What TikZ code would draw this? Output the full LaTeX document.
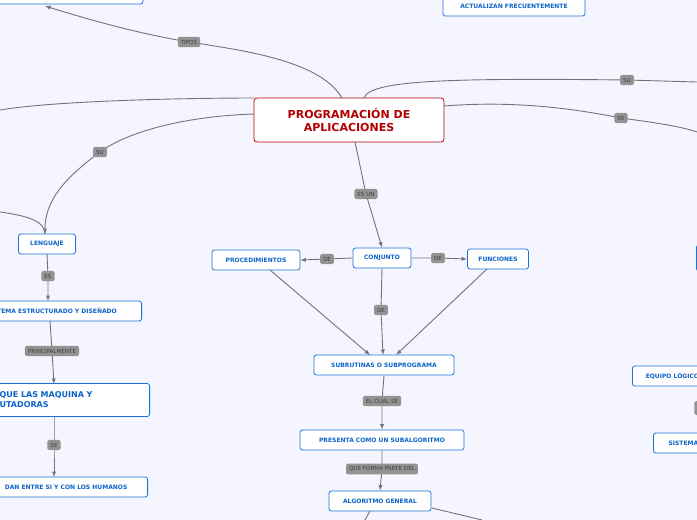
\documentclass[tikz,border=0pt]{standalone}
\usepackage{fontspec}
\setmainfont{DejaVu Sans}
\definecolor{nb}{HTML}{1A73D9}
\definecolor{nt}{HTML}{0B63C9}
\begin{document}
\begin{tikzpicture}[x=1pt,y=-1pt,
 bx/.style={draw=nb,line width=0.8pt,fill=white,rounded corners=2.5pt,font=\bfseries\fontsize{6}{7}\selectfont,text=nt,inner xsep=4pt,minimum height=20pt},
 lb/.style={fill=gray!85,rounded corners=1.5pt,font=\fontsize{5.6}{6}\selectfont,text=black!75,inner sep=3pt},
 ln/.style={draw=gray!90!black,line width=0.9pt},
 ar/.style={ln,-latex}]
\fill[blue!4] (0,0) rectangle (697,520);
\clip (0,0) rectangle (697,520);
% nodes
\node[bx,minimum width=220pt,minimum height=16pt] (tl) at (33,-4) {};
\node[bx,minimum width=142pt] (tr) at (514,6) {ACTUALIZAN FRECUENTEMENTE};
\node[draw=red!70!black,line width=0.8pt,fill=white,rounded corners=3pt,font=\bfseries\fontsize{11}{13}\selectfont,text=red!70!black,align=center,minimum width=190pt,minimum height=44pt] (main) at (349,120) {PROGRAMACIÓN DE\\APLICACIONES};
\node[bx,minimum width=57pt] (len) at (47,244) {LENGUAJE};
\node[bx,anchor=east,minimum width=170pt] (sis) at (142,311) {\hspace*{-10pt}SISTEMA ESTRUCTURADO Y DISEÑADO};
\node[bx,anchor=east,minimum width=200pt,minimum height=33pt,font=\bfseries\fontsize{8}{10}\selectfont,align=left,text width=190pt] (que) at (150,400) {\makebox[190pt][l]{\hspace{45pt}QUE LAS MAQUINA Y}\\\makebox[190pt][l]{\hspace{45pt}UTADORAS}};
\node[bx,anchor=east,minimum width=190pt] (dan) at (148,487) {\hspace*{27pt}DAN ENTRE SI Y CON LOS HUMANOS};
\node[bx,minimum width=88pt] (proc) at (256,260) {PROCEDIMIENTOS};
\node[bx,minimum width=58pt] (con) at (382,258) {CONJUNTO};
\node[bx,minimum width=61pt] (fun) at (498,259) {FUNCIONES};
\node[bx,minimum width=140pt] (sub) at (384,365) {SUBRUTINAS O SUBPROGRAMA};
\node[bx,minimum width=164pt] (pre) at (382,440) {PRESENTA COMO UN SUBALGORITMO};
\node[bx,minimum width=102pt] (alg) at (380,501) {ALGORITMO GENERAL};
\node[bx,anchor=west,minimum width=80pt] (equ) at (632,376) {EQUIPO LÓGICO};
\node[bx,anchor=west,minimum width=60pt] (sist) at (653,443) {SISTEMA};
\node[bx,anchor=west,minimum width=20pt,minimum height=26pt] (rb) at (696,258) {};
% coordinates
\coordinate (tlp) at (45,6);
\coordinate (r1) at (697,82);
\coordinate (r2) at (697,132);
\coordinate (l1) at (0,110);
\coordinate (l2) at (0,212);
\coordinate (a1) at (365,520);
\coordinate (a2) at (482,520);
% connectors
\draw[ar] (342,98) .. controls (320,60) and (240,50) .. (189,42) .. controls (140,34) and (90,20) .. (tlp);
\draw[ln] (364,98) .. controls (370,80) and (450,78) .. (627,80) -- (r1);
\draw[ln] (444,106) .. controls (520,100) and (580,110) .. (621,118) .. controls (650,122) and (680,126) .. (r2);
\draw[ln] (254,98) .. controls (200,98) and (60,100) .. (l1);
\draw[ar] (254,114) .. controls (190,116) and (130,130) .. (100,152) .. controls (65,178) and (45,200) .. (45,234);
\draw[ln] (l2) .. controls (30,216) and (45,222) .. (45,234);
\draw[ar] (355,142) -- (366,194) -- (con.north);
\draw[ar] (con.west) -- (327,259) -- (proc.east);
\draw[ar] (con.east) -- (438,258) -- (fun.west);
\draw[ar] (con.south) -- (381,310) -- (383,355);
\draw[ar] (270,270) -- (370,355);
\draw[ar] (487,269) -- (396,355);
\draw[ar] (sub.south) -- (382,401) -- (pre.north);
\draw[ar] (pre.south) -- (382,469) -- (alg.north);
\draw[ln] (370,511) -- (a1);
\draw[ln] (432,508) -- (a2);
\draw[ar] (47,254) -- (48,276) -- (48,301);
\draw[ar] (50,321) -- (52,351) -- (54,384);
\draw[ar] (54,416) -- (54,445) -- (54,477);
% labels
\node[lb] at (189,42) {TIPOS};
\node[lb] at (627,80) {SU};
\node[lb] at (621,118) {SE};
\node[lb] at (100,152) {SU};
\node[lb] at (366,194) {ES UN};
\node[lb] at (327,259) {DE};
\node[lb] at (438,258) {DE};
\node[lb] at (381,310) {DE};
\node[lb] at (382,401) {EL CUAL SE};
\node[lb] at (382,469) {QUE FORMA PARTE DEL};
\node[lb] at (48,276) {ES};
\node[lb] at (52,351) {PRINCIPALMENTE};
\node[lb] at (54,445) {SE};
\node[lb,minimum height=14pt] at (701,408) {\phantom{SE}};
\end{tikzpicture}
\end{document}
